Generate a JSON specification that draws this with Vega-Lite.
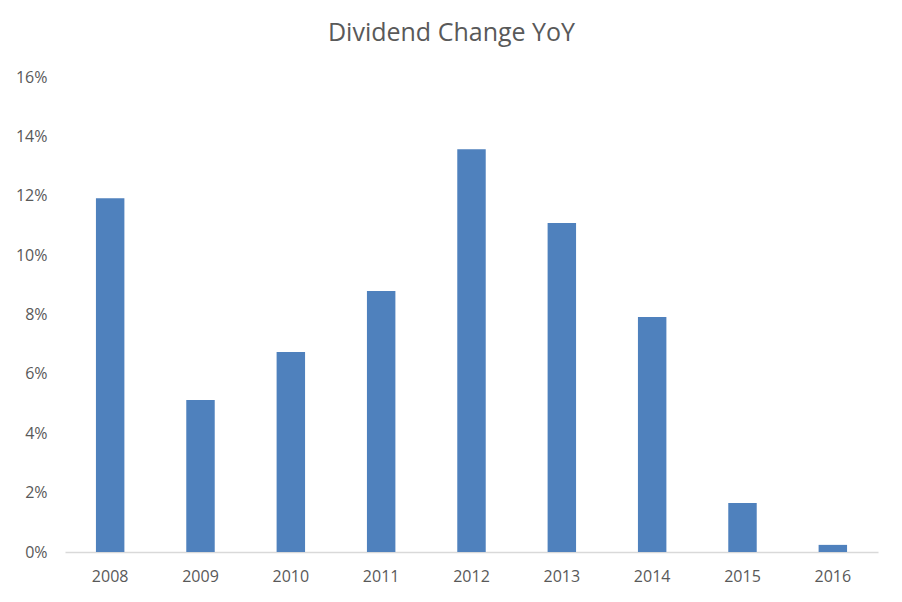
{
  "$schema": "https://vega.github.io/schema/vega-lite/v6.json",
  "autosize": "none",
  "padding": {"left": 65, "top": 77, "right": 24, "bottom": 50},
  "width": 813,
  "height": 475,
  "background": "white",
  "title": {
    "text": "Dividend Change YoY",
    "font": "Open Sans",
    "fontSize": 25,
    "fontWeight": "normal",
    "color": "#595959",
    "anchor": "middle",
    "frame": "group",
    "baseline": "alphabetic",
    "offset": 33,
    "dx": -20,
    "dy": 30
  },
  "config": {
    "font": "Open Sans",
    "view": {"stroke": null},
    "axis": {
      "labelFont": "Open Sans",
      "labelFontSize": 16,
      "labelColor": "#595959",
      "tickSize": 0,
      "title": null
    }
  },
  "data": {
    "values": [
      {"year": "2008", "change": 0.1192},
      {"year": "2009", "change": 0.0512},
      {"year": "2010", "change": 0.0674},
      {"year": "2011", "change": 0.0879},
      {"year": "2012", "change": 0.1357},
      {"year": "2013", "change": 0.1108},
      {"year": "2014", "change": 0.0792},
      {"year": "2015", "change": 0.0165},
      {"year": "2016", "change": 0.0024}
    ]
  },
  "mark": {"type": "bar", "color": "#4f81bd"},
  "encoding": {
    "x": {
      "field": "year",
      "type": "ordinal",
      "scale": {"paddingInner": 0.685, "paddingOuter": 0.3425},
      "axis": {
        "labelAngle": 0,
        "labelPadding": 16,
        "domainColor": "#d9d9d9",
        "domainWidth": 1.5,
        "ticks": false
      }
    },
    "y": {
      "field": "change",
      "type": "quantitative",
      "scale": {"domain": [0, 0.16], "nice": false},
      "axis": {
        "values": [0, 0.02, 0.04, 0.06, 0.08, 0.1, 0.12, 0.14, 0.16],
        "format": ".0%",
        "domain": false,
        "grid": false,
        "ticks": false,
        "labelPadding": 18
      }
    }
  }
}
